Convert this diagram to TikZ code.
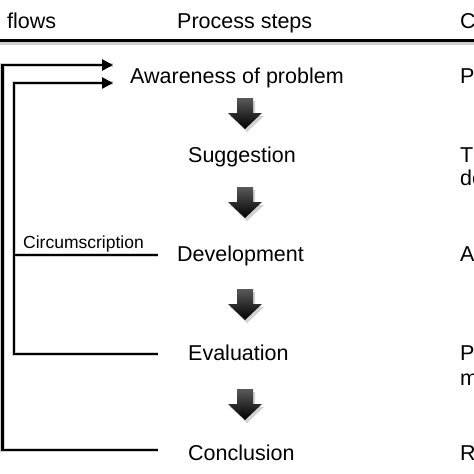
\documentclass[tikz,border=0pt]{standalone}
\usepackage{fontspec}
\setmainfont{Liberation Sans}
\usetikzlibrary{arrows.meta,calc}
\tikzset{
  txt/.style={inner sep=0pt, anchor=base west, font=\fontsize{21.5}{25}\selectfont},
  smalltxt/.style={inner sep=0pt, anchor=base west, font=\fontsize{17.5}{21}\selectfont},
  flowline/.style={draw=black, line width=2.6pt, line cap=butt, line join=miter},
  flowarrow/.style={flowline, -{Triangle[length=11pt,width=11pt]}},
  shadowline/.style={draw=black!18, line width=4.5pt, shift={(2,3)}},
  rule/.style={draw=black, line width=3pt},
  blockfill/.style={top color=black!65, bottom color=black, draw=none},
  blockshadow/.style={fill=black!18, draw=none, shift={(2,3)}}
}
\newcommand\dnblockarrow[3][]{%
  \path[#1] (#2-8,#3) -- (#2+8,#3) -- (#2+8,#3+15) -- (#2+17,#3+15) -- (#2,#3+31)
    -- (#2-17,#3+15) -- (#2-8,#3+15) -- cycle;}
\begin{document}
\begin{tikzpicture}[x=1pt,y=-1pt]
\useasboundingbox (0,0) rectangle (474,474);
\clip (0,0) rectangle (474,474);

% header
\node[txt] (hflows) at (7,28) {flows};
\node[txt] (hsteps) at (177,28) {Process steps};
\node[txt] (hC) at (460,28) {C};
\draw[draw=black!20, line width=4pt] (0,43) -- (474,43);
\draw[rule] (0,40) -- (474,40);

% process steps
\node[txt] (s1) at (130,83) {Awareness of problem};
\node[txt] (s2) at (188,162) {Suggestion};
\node[txt] (s3) at (177,261) {Development};
\node[txt] (s4) at (188,360) {Evaluation};
\node[txt] (s5) at (188,460) {Conclusion};

% right column (clipped)
\node[txt] (r1) at (460,83) {P};
\node[txt] (r2) at (460,162) {T};
\node[txt] (r2b) at (460,185) {de};
\node[txt] (r3) at (460,261) {A};
\node[txt] (r4) at (460,360) {P};
\node[txt] (r4b) at (460,385) {m};
\node[txt] (r5) at (460,460) {R};

% circumscription label
\node[smalltxt] (circ) at (23,248) {Circumscription};

% knowledge flow coordinates
\coordinate (t1) at ($(s1.west)+(-17,-18)$);
\coordinate (t2) at ($(s1.west)+(-17,0)$);
\coordinate (o1) at (2.5,65);
\coordinate (o2) at (2.5,450);
\coordinate (e5) at ($(s5.west)+(-30,0)$);
\coordinate (i1) at (14,83);
\coordinate (i4) at (14,354);
\coordinate (i3) at (14,255);
\coordinate (e3) at ($(s3.west)+(-19,0)$);
\coordinate (e4) at ($(s4.west)+(-30,0)$);

% shadows
\draw[shadowline] (t1 |- o1) -- (o1) -- (o2) -- (e5 |- o2);
\draw[shadowline] (t2 |- i1) -- (i1) -- (i4) -- (e4 |- i4);
\draw[shadowline] (i3) -- (e3 |- i3);

% flows
\draw[flowarrow] (e5 |- o2) -- (o2) -- (o1) -- (t1 |- o1);
\draw[flowarrow] (e4 |- i4) -- (i4) -- (i1) -- (t2 |- i1);
\draw[flowline] (i3) -- (e3 |- i3);

% block arrows between steps
\dnblockarrow[blockshadow]{245}{98}
\dnblockarrow[blockfill]{245}{98}
\dnblockarrow[blockshadow]{245}{187}
\dnblockarrow[blockfill]{245}{187}
\dnblockarrow[blockshadow]{245}{289}
\dnblockarrow[blockfill]{245}{289}
\dnblockarrow[blockshadow]{245}{389}
\dnblockarrow[blockfill]{245}{389}
\end{tikzpicture}
\end{document}
